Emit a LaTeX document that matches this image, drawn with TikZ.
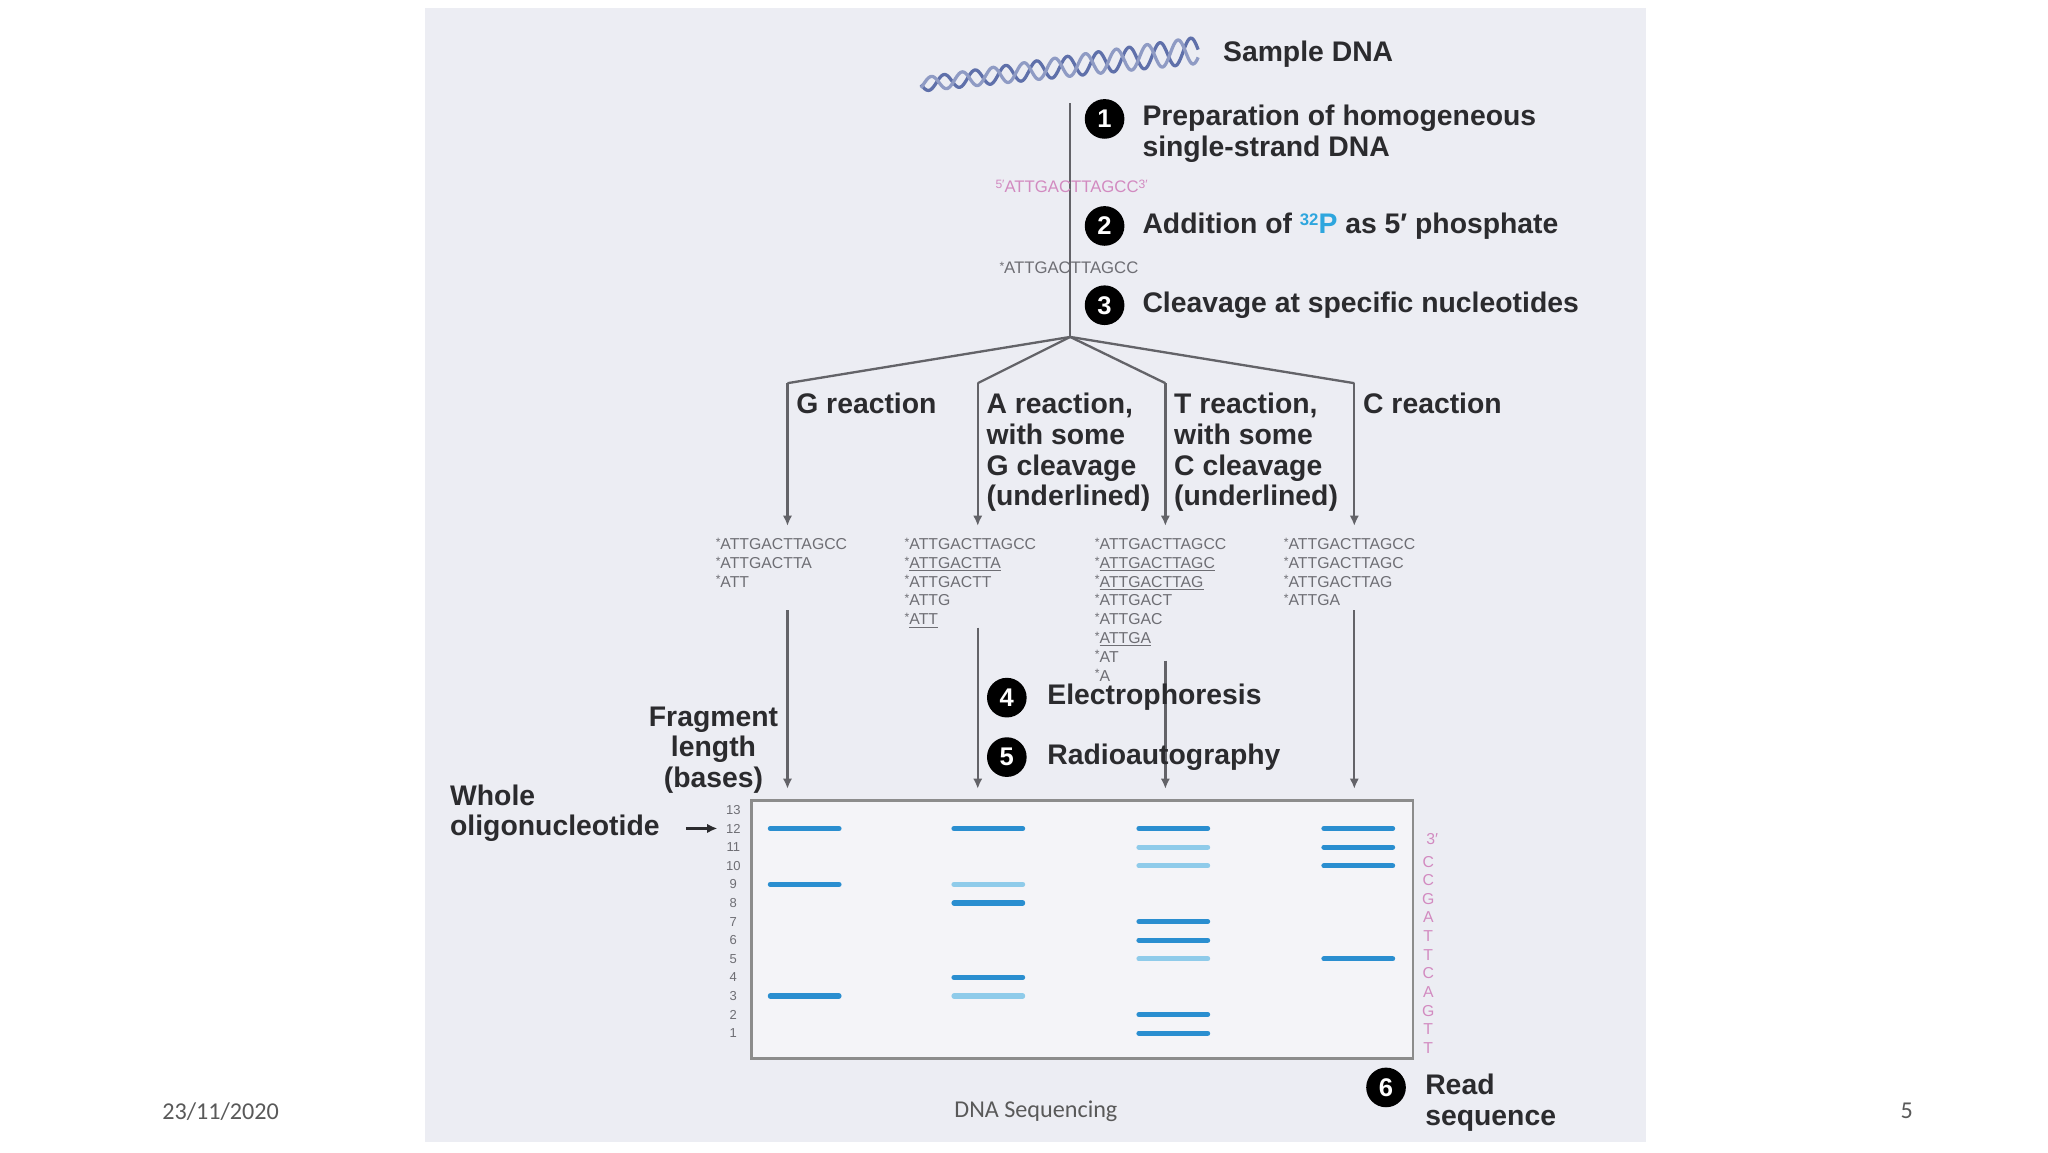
\documentclass[tikz,border=0pt]{standalone}
\usepackage{fontspec}
\setmainfont{Liberation Sans}
\newfontfamily\footfont{Carlito}
\usetikzlibrary{arrows.meta}
\definecolor{panel}{HTML}{ECEDF3}
\definecolor{ink}{HTML}{2B2B2E}
\definecolor{seq}{HTML}{6E6E74}
\definecolor{pinkseq}{HTML}{D28AC0}
\definecolor{bdark}{HTML}{2A8ED0}
\definecolor{blight}{HTML}{8FCBEA}
\definecolor{helix}{HTML}{5F70AA}
\definecolor{p32}{HTML}{2EA6DE}
\newcommand{\myast}{\raisebox{0.7pt}{\fontsize{2.6}{3}\selectfont*}}
\newcommand{\myul}[1]{\setbox0\hbox{#1}\rlap{\rule[-0.6pt]{\wd0}{0.2pt}}\box0}
\begin{document}
\begin{tikzpicture}[x=0.01cm,y=-0.01cm,
  lbl/.style={font=\fontsize{6.1}{6.6}\selectfont\bfseries,text=ink,inner sep=0pt,align=left},
  sq/.style={font=\fontsize{3.4}{4.05}\selectfont,text=seq,inner sep=0pt,anchor=base west},
  stepc/.style={circle,fill=black,text=white,minimum size=0.3cm,inner sep=0pt,font=\fontsize{5.5}{6}\selectfont\bfseries},
  ln/.style={draw=seq!90!black,line width=0.5pt},
  arr/.style={ln,-{Latex[length=2.2pt,width=2pt]}},
  band/.style={line width=1.1pt,line cap=round},
  foot/.style={font=\footfont\fontsize{5.2}{6}\selectfont,text=black!65,inner sep=0pt}]
\useasboundingbox (0,0) rectangle (1550,872);
\fill[white] (0,0) rectangle (1550,872);
\fill[panel] (322,6) rectangle (1246,864);
% helix
\draw[helix,line width=0.7pt] plot[domain=0:1,samples=300] ({697+210*\x},{64-26*\x+(5+5*\x)*sin(\x*9*360)});
\draw[helix!70,line width=0.7pt] plot[domain=0:1,samples=300] ({697+210*\x},{64-26*\x+(5+5*\x)*sin(\x*9*360+150)});
\node[lbl,anchor=west] (sdna) at (925,41) {Sample DNA};
% trunk
\coordinate (top) at (810,78);
\coordinate (br) at (810,255);
\draw[ln] (top) -- (br);
\node[stepc] (s1) at (836,90) {1};
\node[lbl,anchor=north west] (t1) at (864,79) {Preparation of homogeneous\\single-strand DNA};
\node[font=\fontsize{3.6}{4}\selectfont,text=pinkseq,inner sep=0pt] (q1) at (811,141) {\raisebox{0.7pt}{\fontsize{2.6}{3}\selectfont5′}ATTGACTTAGCC\raisebox{0.7pt}{\fontsize{2.6}{3}\selectfont3′}};
\node[stepc] (s2) at (836,171) {2};
\node[lbl,anchor=west] (t2) at (864,171) {Addition of \textcolor{p32}{\raisebox{1.6pt}{\fontsize{3.6}{4}\selectfont32}P} as 5′ phosphate};
\node[font=\fontsize{3.6}{4}\selectfont,text=seq,inner sep=0pt] (q2) at (809,203) {\myast ATTGACTTAGCC};
\node[stepc] (s3) at (836,231) {3};
\node[lbl,anchor=west] (t3) at (864,231) {Cleavage at specific nucleotides};
% branches
\foreach \n/\x in {g/596,a/740,t/882,c/1025}{
  \coordinate (\n1) at (\x,290);
  \coordinate (\n2) at (\x,398);
  \draw[ln] (br) -- (\n1);
  \draw[arr] (\n1) -- (\n2);
}
\node[lbl,anchor=north west] (gl) at (602,297) {G reaction};
\node[lbl,anchor=north west] (al) at (746,297) {A reaction,\\with some\\G cleavage\\(underlined)};
\node[lbl,anchor=north west] (tl) at (888,297) {T reaction,\\with some\\C cleavage\\(underlined)};
\node[lbl,anchor=north west] (cl) at (1031,297) {C reaction};
% sequences
\foreach \s [count=\i from 0] in {ATTGACTTAGCC,ATTGACTTA,ATT}
  \node[sq] at (541,{416+\i*14.2}) {\myast\s};
\foreach \s [count=\i from 0] in {ATTGACTTAGCC,\myul{ATTGACTTA},ATTGACTT,ATTG,\myul{ATT}}
  \node[sq] at (684,{416+\i*14.2}) {\myast\s};
\foreach \s [count=\i from 0] in {ATTGACTTAGCC,\myul{ATTGACTTAGC},\myul{ATTGACTTAG},ATTGACT,ATTGAC,\myul{ATTGA},AT,A}
  \node[sq] at (828,{416+\i*14.2}) {\myast\s};
\foreach \s [count=\i from 0] in {ATTGACTTAGCC,ATTGACTTAGC,ATTGACTTAG,ATTGA}
  \node[sq] at (971,{416+\i*14.2}) {\myast\s};
% lines to gel
\coordinate (g3) at (596,462); \coordinate (g4) at (596,597);
\coordinate (a3) at (740,475); \coordinate (a4) at (740,597);
\coordinate (t3) at (882,500); \coordinate (t4) at (882,597);
\coordinate (c3) at (1025,462); \coordinate (c4) at (1025,597);
\foreach \n in {g,a,t,c}{\draw[arr] (\n3) -- (\n4);}
\node[stepc] (s4) at (762,528) {4};
\node[lbl,anchor=west] (t4l) at (792,528) {Electrophoresis};
\node[stepc] (s5) at (762,573) {5};
\node[lbl,anchor=west] (t5l) at (792,573) {Radioautography};
\node[lbl,align=center,anchor=north] (frag) at (540,534) {Fragment\\length\\(bases)};
\node[lbl,anchor=north west] (whole) at (340,593) {Whole\\oligonucleotide};
\coordinate (wa) at (519,627); \coordinate (wb) at (543,627);
\draw[arr,draw=ink] (wa) -- (wb);
% gel
\node[draw=black!45,line width=0.6pt,minimum width=5cm,minimum height=1.95cm,inner sep=0pt,anchor=north west,fill=panel!60!white] (gel) at (568,605) {};
\foreach \n in {1,...,13}{
  \node[font=\fontsize{2.8}{3}\selectfont,text=seq,inner sep=0pt] at (555,{613+(13-\n)*14.08}) {\n};
}
\newcommand{\bnd}[3]{\draw[band,#3] ({#1-26},{613+(13-#2)*14.08}) -- ({#1+26},{613+(13-#2)*14.08});}
\bnd{609}{12}{bdark}\bnd{609}{9}{bdark}\bnd{609}{3}{bdark}
\bnd{748}{12}{bdark}\bnd{748}{9}{blight}\bnd{748}{8}{bdark}\bnd{748}{4}{bdark}\bnd{748}{3}{blight}
\bnd{888}{12}{bdark}\bnd{888}{11}{blight}\bnd{888}{10}{blight}\bnd{888}{7}{bdark}\bnd{888}{6}{bdark}\bnd{888}{5}{blight}\bnd{888}{2}{bdark}\bnd{888}{1}{bdark}
\bnd{1028}{12}{bdark}\bnd{1028}{11}{bdark}\bnd{1028}{10}{bdark}\bnd{1028}{5}{bdark}
\node[font=\fontsize{3.4}{4}\selectfont,text=pinkseq,inner sep=0pt] at (1084,635) {3′};
\foreach \L [count=\i] in {C,C,G,A,T,T,C,A,G,T,T}{
  \node[font=\fontsize{3.4}{4}\selectfont,text=pinkseq,inner sep=0pt] at (1081,{638+\i*14.1}) {\L};
}
\node[stepc] (s6) at (1049,823) {6};
\node[lbl,anchor=north west] (t6) at (1078,812) {Read\\sequence};
% footer
\node[foot] (date) at (167,841) {23/11/2020};
\node[foot] (title) at (784,841) {DNA Sequencing};
\node[foot] (pg) at (1443,841) {5};
\end{tikzpicture}
\end{document}
